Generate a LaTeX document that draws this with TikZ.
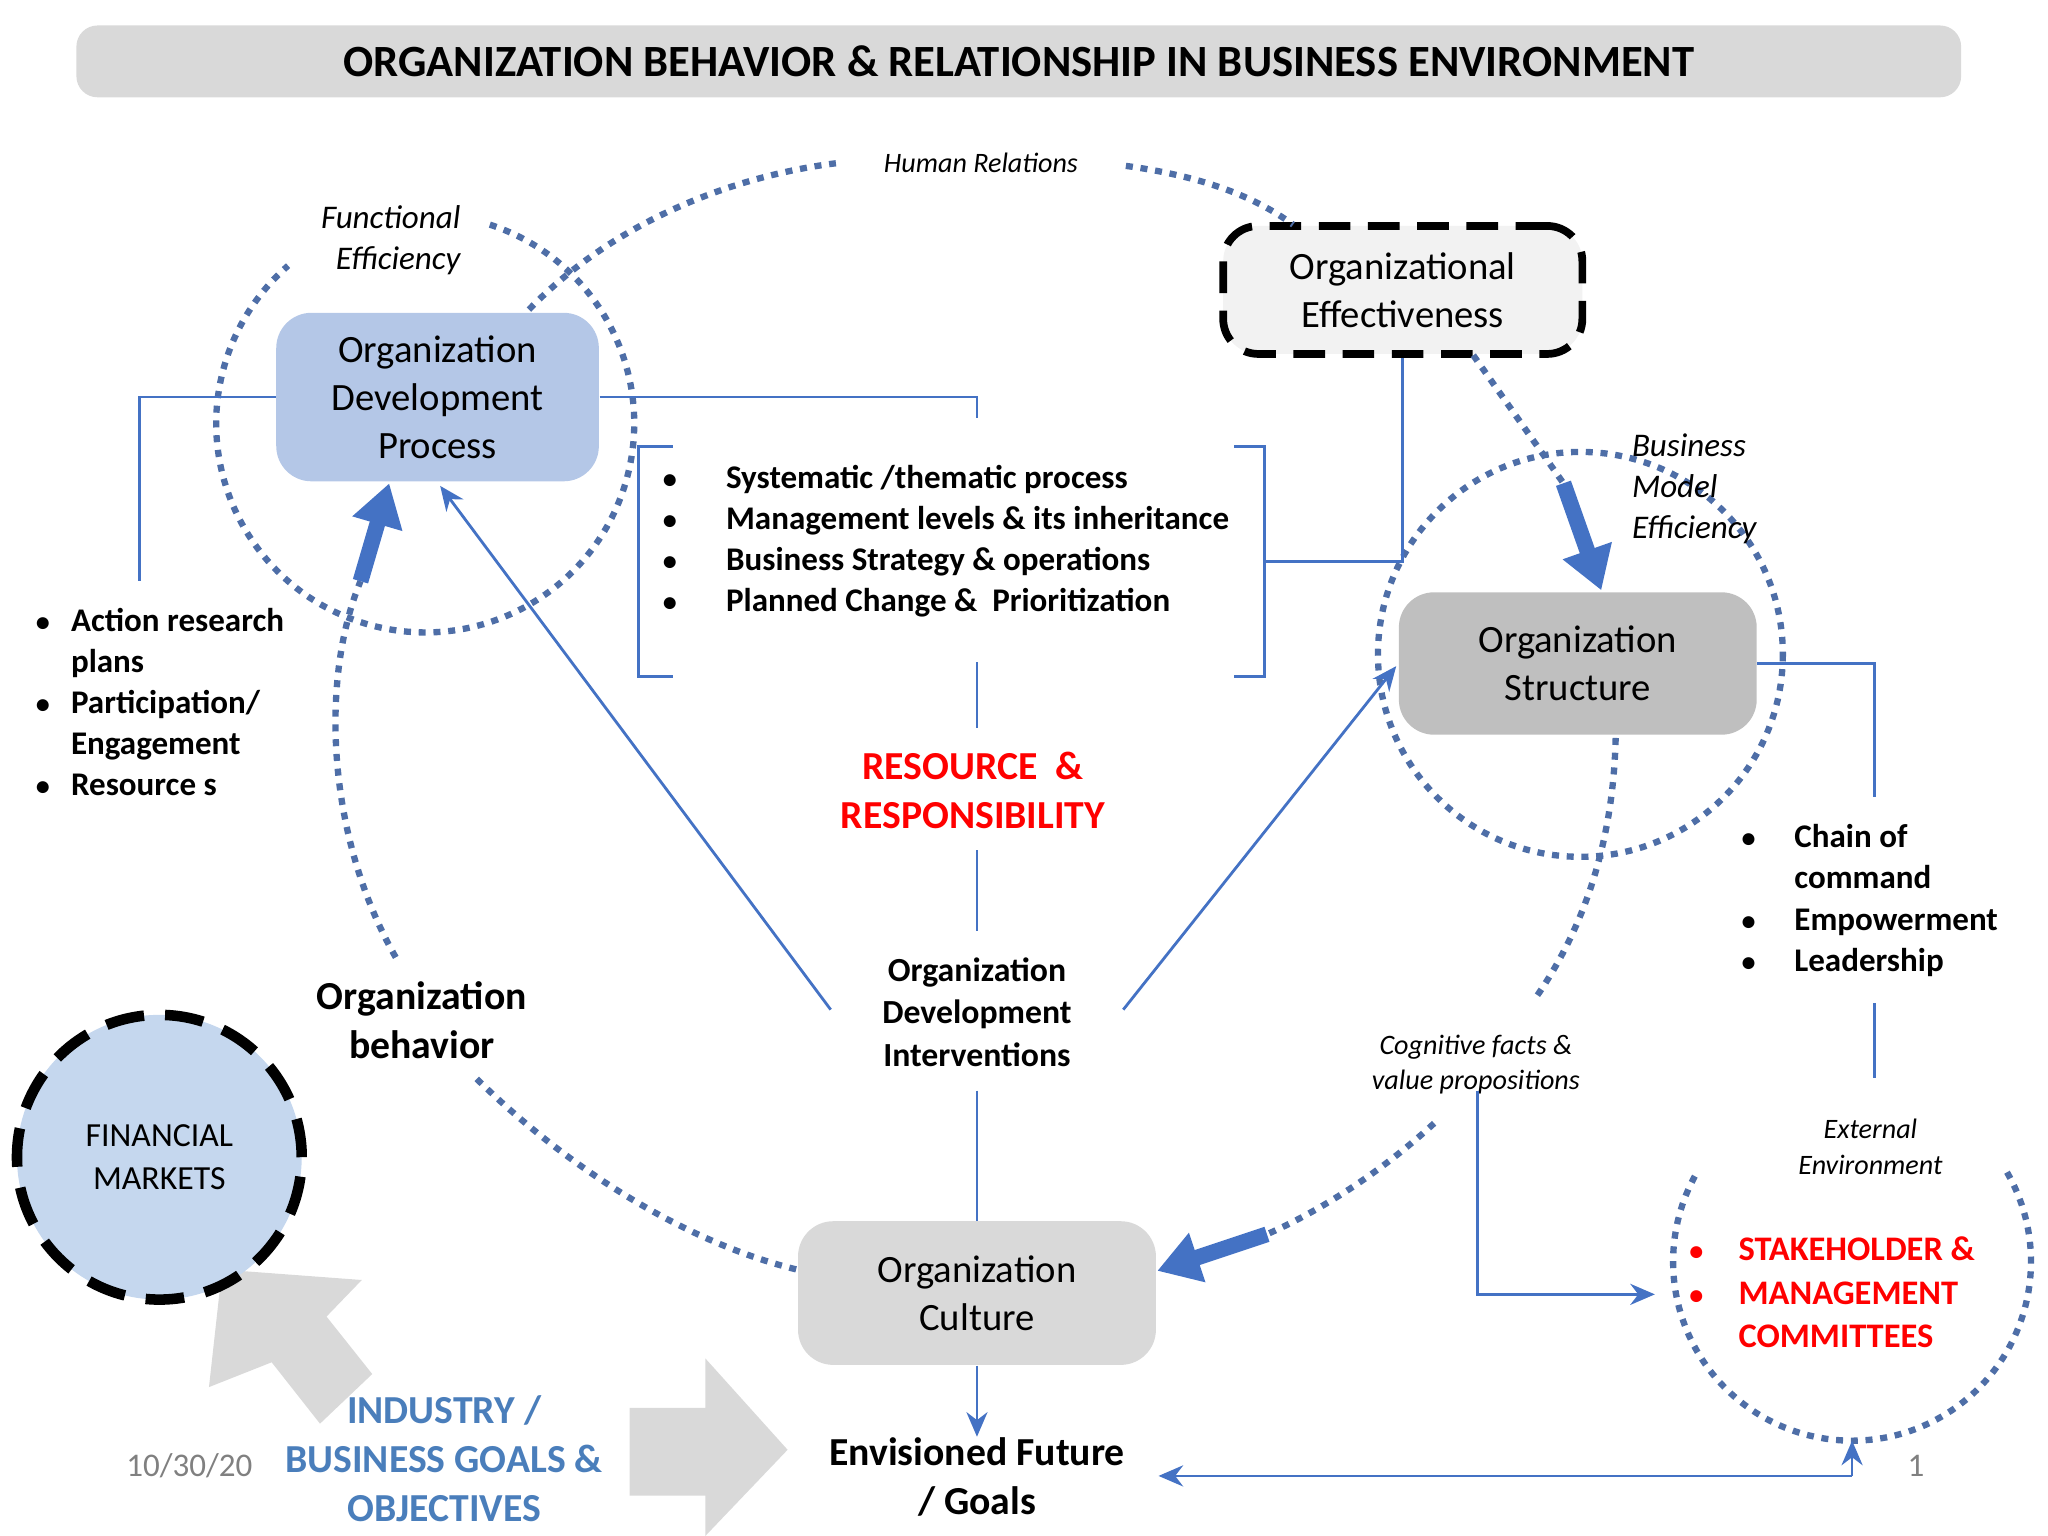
\documentclass[tikz,border=0pt]{standalone}
\usepackage{fontspec}
\setmainfont{Carlito}
\usetikzlibrary{arrows.meta}
\definecolor{dblue}{HTML}{2F5597}
\definecolor{lblue}{HTML}{4472C4}
\definecolor{boxblue}{HTML}{B4C7E7}
\definecolor{fmblue}{HTML}{C5D7EE}
\definecolor{gboxa}{HTML}{BFBFBF}
\definecolor{gboxb}{HTML}{D9D9D9}
\definecolor{indblue}{HTML}{4A7EBB}
\definecolor{tred}{HTML}{FF0000}
\newcommand{\bt}{{\footnotesize\textbullet}}
\tikzset{
 dots/.style={dblue!85,line width=1.8pt,dash pattern=on 2pt off 2.2pt},
 conn/.style={lblue,line width=0.8pt},
 arr/.style={conn,-{Stealth[length=7pt,width=6pt]}},
 thick arr/.style={lblue,line width=4.5pt,-{Triangle[length=12pt,width=14pt]}},
 big/.style={font=\fontsize{11}{13.6}\selectfont,align=center},
 bul/.style={font=\fontsize{9.4}{11.7}\selectfont\bfseries,align=left},
 ital/.style={font=\fontsize{8}{10}\selectfont\itshape,align=center},
 ital2/.style={font=\fontsize{9.4}{11.7}\selectfont\itshape,align=center},
 box/.style={rounded corners=10pt,big},
}
\begin{document}
\begin{tikzpicture}[x=0.013061cm,y=-0.013061cm]
\useasboundingbox (0,0) rectangle (1568,1176);
% title
\node[fill=gboxb,rounded corners=6pt,minimum width=1443*0.013061cm,minimum height=55*0.013061cm,font=\fontsize{12.7}{15}\selectfont\bfseries] (title) at (780,47) {ORGANIZATION BEHAVIOR \& RELATIONSHIP IN BUSINESS ENVIRONMENT};
% gray block arrows
\fill[gray!30] (170,972) -- (277,980) -- (250,1008) -- (285,1052) -- (245,1090) -- (208,1043) -- (160,1062) -- cycle;
\fill[gray!30] (482,1078) -- (540,1078) -- (540,1040) -- (603,1110) -- (540,1176) -- (540,1145) -- (482,1145) -- cycle;
% circles
\draw[dots] (375,172) arc[start angle=-72,end angle=229,radius=160];
\draw[dots] (1210,501) circle (155);
\draw[dots] (1536.6,897.5) arc[start angle=-30,end angle=210,radius=137];
% nodes
\node[box,fill=boxblue,minimum width=247*0.013061cm,minimum height=129*0.013061cm] (odp) at (335,304) {Organization\\Development\\Process};
\node[box,fill=gray!10,draw=black,line width=2.2pt,dash pattern=on 9pt off 5pt,minimum width=275*0.013061cm,minimum height=98*0.013061cm] (oe) at (1074,222) {Organizational\\Effectiveness};
\node[box,fill=gboxa,minimum width=274*0.013061cm,minimum height=109*0.013061cm] (os) at (1208,508) {Organization\\Structure};
\node[box,fill=gboxb,minimum width=274*0.013061cm,minimum height=110*0.013061cm] (oc) at (748,990) {Organization\\Culture};
\node[draw=black,fill=fmblue,circle,line width=3pt,dash pattern=on 11pt off 6pt,minimum size=218*0.013061cm,font=\fontsize{9.6}{12.3}\selectfont,align=center] (fm) at (122,886) {FINANCIAL\\MARKETS};

\node[ital2,align=right,anchor=east] (fe) at (362,184) {Functional\\Efficiency};
\node[ital] (hr) at (751,125) {Human Relations};
\node[ital2,align=left,anchor=west] (bme) at (1240,374) {Business\\Model\\Efficiency};
\node[ital] (cf) at (1130,815) {Cognitive facts \&\\value propositions};
\node[ital] (ee) at (1432,878) {External\\Environment};

\node[bul,anchor=west] (lb) at (18,540) {%
\begin{tabular}{@{}l@{\hspace{6pt}}l@{}}
\bt & Action research\\ & plans\\
\bt & Participation/\\ & Engagement\\
\bt & Resource s
\end{tabular}};
\node[bul,anchor=west] (mb) at (498,415) {%
\begin{tabular}{@{}l@{\hspace{14pt}}l@{}}
\bt & Systematic /thematic process\\
\bt & Management levels \& its inheritance\\
\bt & Business Strategy \& operations\\
\bt & Planned Change \&\ \ Prioritization
\end{tabular}};
\node[bul,anchor=west] (rb) at (1324,690) {%
\begin{tabular}{@{}l@{\hspace{11pt}}l@{}}
\bt & Chain of\\ & command\\
\bt & Empowerment\\
\bt & Leadership
\end{tabular}};
\node[bul,anchor=west,text=tred,font=\fontsize{9.8}{12.4}\selectfont\bfseries] (sm) at (1284,992) {%
\begin{tabular}{@{}l@{\hspace{10pt}}l@{}}
\bt & STAKEHOLDER \&\\
\bt & MANAGEMENT\\
 & COMMITTEES
\end{tabular}};
\node[font=\fontsize{11.3}{14}\selectfont\bfseries,text=tred,align=center] (rr) at (745,605) {RESOURCE\ \ \&\\RESPONSIBILITY};
\node[font=\fontsize{9.6}{12.2}\selectfont\bfseries,align=center] (odi) at (748,775) {Organization\\Development\\Interventions};
\node[font=\fontsize{11.3}{14}\selectfont\bfseries,align=center] (ob) at (323,781) {Organization\\behavior};
\node[font=\fontsize{11.3}{14}\selectfont\bfseries,align=center] (ef) at (748,1131) {Envisioned Future\\/ Goals};
\node[font=\fontsize{11.3}{14}\selectfont\bfseries,align=center,text=indblue] (ind) at (340,1117) {INDUSTRY /\\BUSINESS GOALS \&\\OBJECTIVES};
\node[font=\fontsize{9.4}{11}\selectfont,text=gray] (dt) at (145,1122) {10/30/20};
\node[font=\fontsize{9.4}{11}\selectfont,text=gray] (pg) at (1467,1122) {1};

% brackets
\draw[conn] (515,342) -- (489,342) -- (489,518) -- (515,518);
\draw[conn] (945,342) -- (968,342) -- (968,518) -- (945,518);
% thin lines
\draw[conn] (odp.east|-0,304) -- (748,304) -- (748,320);
\draw[conn] (odp.west|-0,304) -- (107,304) -- (107,445);
\draw[conn] (968,430) -- (1074,430) -- (oe.south);
\draw[conn] (os.east|-0,508) -- (1435,508) -- (1435,610);
\draw[conn] (1435,768) -- (1435,825);
\draw[conn] (748,507) -- (748,557);
\draw[conn] (748,651) -- (748,713);
\draw[conn] (748,835) -- (oc.north);
\draw[arr] (636,773) -- (337,372);
\draw[arr] (860,773) -- (1069,510);
\draw[arr] (oc.south) -- (748,1100);
\draw[arr] (1131,835) -- (1131,991) -- (1267,991);
\draw[arr] (1418,1130) -- (887,1130);
\draw[arr] (1418,1130) -- (1418,1103);
% dotted curves
\draw[dots] (405,237) .. controls (470,170) and (560,135) .. (640,125);
\draw[dots] (862,127) .. controls (920,135) and (960,150) .. (990,172);
\draw[dots] (1128,272) -- (1197,370);
\draw[dots] (303,733) .. controls (250,640) and (245,520) .. (276,445);
\draw[dots] (365,826) .. controls (430,890) and (520,950) .. (610,972);
\draw[dots] (1237,565) .. controls (1235,650) and (1210,715) .. (1175,765);
\draw[dots] (1098,860) .. controls (1060,895) and (1015,925) .. (970,945);
% thick arrows
\draw[thick arr] (276,445) -- (298,370);
\draw[thick arr] (1197,370) -- (1226,452);
\draw[thick arr] (970,945) -- (886,973);
\end{tikzpicture}
\end{document}
